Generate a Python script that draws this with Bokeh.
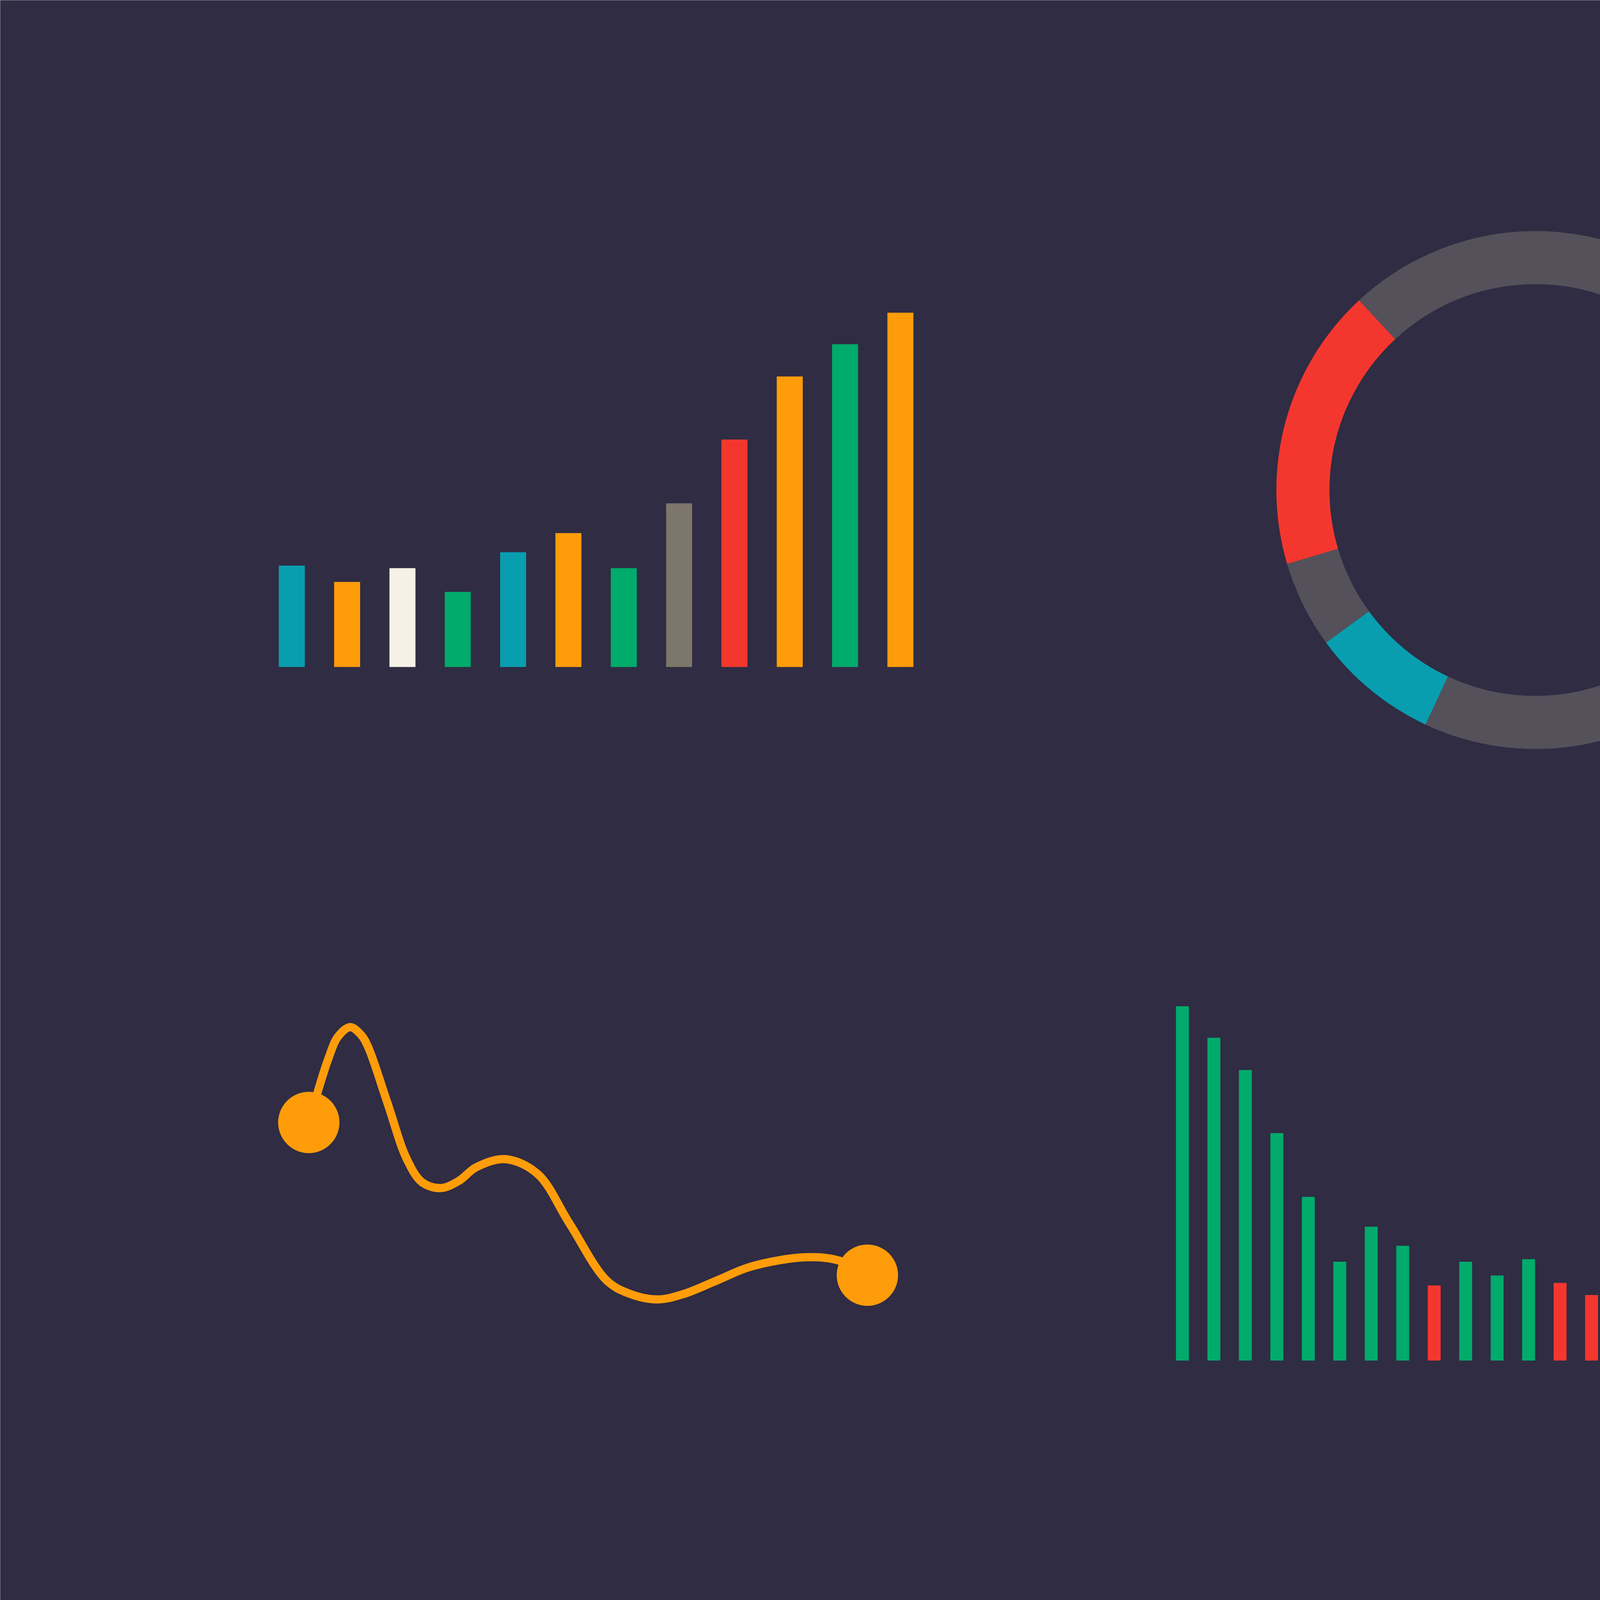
import numpy as np
from bokeh.plotting import figure
from bokeh.models import Range1d, ColumnDataSource
from bokeh.embed import file_html
from bokeh.resources import INLINE

BG = "#2f2c43"
TEAL = "#089eaf"
ORANGE = "#ff9c0a"
CREAM = "#f5f1e6"
GREEN = "#00ab6b"
TAUPE = "#7d766a"
RED = "#f4372e"
DGRAY = "#54515b"

# top-left bar chart
bars_a_values = [28.6, 24.0, 27.9, 21.2, 32.4, 37.8, 27.9, 46.2, 64.2, 82.0, 91.1, 100.0]
bars_a_colors = [TEAL, ORANGE, CREAM, GREEN, TEAL, ORANGE, GREEN, TAUPE, RED, ORANGE, GREEN, ORANGE]

# donut (degrees of each segment, anticlockwise from 3 o'clock)
donut_values = [16.4, 41.8, 74.7, 63.7, 19.5, 28.8, 69.2, 45.9]
donut_colors = [DGRAY, ORANGE, DGRAY, RED, DGRAY, TEAL, DGRAY, GREEN]

# top-right line chart
line_x = [0, 13.5, 19.6, 41.7, 56.7, 61.8, 78.0, 85.1, 107.2, 116.2, 133.7, 149.2, 157.4, 167.9]
line_y = [6.0, 35.3, 16.1, 32.0, 11.7, 48.1, 27.6, 80.6, 10.8, 24.6, 14.9, 31.8, 8.5, 19.7]
line_marker_colors = [TAUPE, TEAL, RED, None, TAUPE, GREEN, TEAL, GREEN, TAUPE, None, RED, TAUPE, None, ORANGE]

# bottom-left smooth curve
curve_x = [0, 5.1, 7.5, 10.6, 13.4, 15.2, 20.2, 25.1, 29.0, 33.8, 38.5, 42.8, 50.4, 58.6,
           66.7, 76.2, 82.0, 89.3, 96.0, 104.6, 113.2, 127.3, 135.9, 143.0]
curve_y = [51.9, 68.5, 73.9, 76.3, 74.3, 71.2, 56.7, 42.5, 36.6, 35.1, 37.0, 40.4, 42.5, 38.7,
           26.1, 11.5, 8.1, 6.6, 8.0, 11.5, 15.0, 17.4, 16.5, 12.8]

# bottom-middle bar chart
bars_e_values = [100.0, 91.1, 82.0, 64.2, 46.2, 27.9, 37.8, 32.4, 21.2, 27.9, 24.0, 28.6,
                 21.9, 18.5, 21.4, 16.3, 24.9, 29.1, 21.4, 35.4, 49.3, 63.1, 70.0, 76.8]
bars_e_colors = [GREEN, GREEN, GREEN, GREEN, GREEN, GREEN, GREEN, GREEN, RED, GREEN, GREEN, GREEN,
                 RED, RED, RED, RED, GREEN, GREEN, RED, GREEN, GREEN, GREEN, GREEN, GREEN]

# bottom-right pie (percent, clockwise from 12 o'clock)
pie_values = [6.3, 16.25, 4.43, 73.02]
pie_colors = [GREEN, ORANGE, RED, DGRAY]

W, H, OFF = 7984, 4484, 8


def ranges(x0_px, x_scale, y0_px, y_scale):
    """Range pair so that data x=0 lands at page px x0_px and y=0 at y0_px."""
    xr = Range1d((OFF - x0_px) / x_scale, (OFF + W - x0_px) / x_scale)
    yr = Range1d((y0_px - (OFF + H)) / y_scale, (y0_px - OFF) / y_scale)
    return xr, yr


panels = {
    "bars_a": ranges(754.5, 141.64, 1715, 9.07),
    "donut": ranges(3938, 663, 1262, 663),
    "line": ranges(5532, 10, 1700, 10),
    "curve": ranges(798, 10, 3400, 10),
    "bars_e": ranges(3034.5, 80.57, 3490.5, 9.07),
    "pie": ranges(6386, 649, 3063, 649),
}

p = figure(width=W, height=H, x_range=Range1d(0, W), y_range=Range1d(0, H),
           x_axis_type=None, y_axis_type=None, toolbar_location=None,
           output_backend="svg", min_border=0)
p.background_fill_color = BG
p.border_fill_color = BG
p.outline_line_color = None
p.extra_x_ranges = {k: v[0] for k, v in panels.items()}
p.extra_y_ranges = {k: v[1] for k, v in panels.items()}

# ---- top-left bars ----
src_a = ColumnDataSource(dict(x=list(range(len(bars_a_values))), top=bars_a_values, color=bars_a_colors))
p.vbar(x="x", top="top", bottom=0, width=0.47, fill_color="color", line_color=None,
       source=src_a, x_range_name="bars_a", y_range_name="bars_a")

# ---- donut ----
d = np.radians(np.array(donut_values))
d_end = np.cumsum(d)
d_start = d_end - d
src_d = ColumnDataSource(dict(start=d_start, end=d_end, color=donut_colors))
p.annular_wedge(x=0, y=0, inner_radius=0.795, outer_radius=1.0, start_angle="start", end_angle="end",
                direction="anticlock", fill_color="color", line_color=None, source=src_d,
                x_range_name="donut", y_range_name="donut")

# ---- line chart ----
p.line(line_x, line_y, line_width=13, line_color=TAUPE, line_join="miter",
       x_range_name="line", y_range_name="line")
mk = [i for i, c in enumerate(line_marker_colors) if c is not None]
src_m = ColumnDataSource(dict(x=[line_x[i] for i in mk], y=[line_y[i] for i in mk],
                              color=[line_marker_colors[i] for i in mk]))
p.scatter(x="x", y="y", size=62, fill_color="color", line_color=None, source=src_m,
          x_range_name="line", y_range_name="line")

# ---- smooth curve: centripetal Catmull-Rom rendered as cubic bezier segments ----
P = np.column_stack([curve_x, curve_y]).astype(float)
n = len(P)
alpha = 0.5
seg = dict(x0=[], y0=[], x1=[], y1=[], cx0=[], cy0=[], cx1=[], cy1=[])
for i in range(n - 1):
    p0 = P[max(i - 1, 0)]
    p1 = P[i]
    p2 = P[i + 1]
    p3 = P[min(i + 2, n - 1)]
    l01 = np.linalg.norm(p1 - p0) ** alpha
    l12 = np.linalg.norm(p2 - p1) ** alpha
    l23 = np.linalg.norm(p3 - p2) ** alpha
    c1 = p1.copy()
    c2 = p2.copy()
    if l01 > 1e-9:
        a = 2 * l01 ** 2 + 3 * l01 * l12 + l12 ** 2
        m = 3 * l01 * (l01 + l12)
        c1 = (p1 * a - p0 * l12 ** 2 + p2 * l01 ** 2) / m
    if l23 > 1e-9:
        b = 2 * l23 ** 2 + 3 * l23 * l12 + l12 ** 2
        m = 3 * l23 * (l23 + l12)
        c2 = (p2 * b + p1 * l23 ** 2 - p3 * l12 ** 2) / m
    seg["x0"].append(p1[0]); seg["y0"].append(p1[1])
    seg["x1"].append(p2[0]); seg["y1"].append(p2[1])
    seg["cx0"].append(c1[0]); seg["cy0"].append(c1[1])
    seg["cx1"].append(c2[0]); seg["cy1"].append(c2[1])
src_c = ColumnDataSource(seg)
p.bezier(x0="x0", y0="y0", x1="x1", y1="y1", cx0="cx0", cy0="cy0", cx1="cx1", cy1="cy1",
         line_width=21, line_color=ORANGE, line_cap="round", source=src_c,
         x_range_name="curve", y_range_name="curve")
p.scatter(x=[curve_x[0], curve_x[-1]], y=[curve_y[0], curve_y[-1]], size=157,
          fill_color=ORANGE, line_color=None, x_range_name="curve", y_range_name="curve")

# ---- bottom bars ----
src_e = ColumnDataSource(dict(x=list(range(len(bars_e_values))), top=bars_e_values, color=bars_e_colors))
p.vbar(x="x", top="top", bottom=0, width=0.41, fill_color="color", line_color=None,
       source=src_e, x_range_name="bars_e", y_range_name="bars_e")

# ---- pie ----
pv = np.array(pie_values) / np.sum(pie_values) * 2 * np.pi
cum = np.cumsum(pv)
p_start = np.pi / 2 - cum
p_end = np.pi / 2 - (cum - pv)
src_p = ColumnDataSource(dict(start=p_start, end=p_end, color=pie_colors))
p.wedge(x=0, y=0, radius=1.0, start_angle="start", end_angle="end", direction="anticlock",
        fill_color="color", line_color=None, source=src_p, x_range_name="pie", y_range_name="pie")

html = file_html(p, INLINE)
html = html.replace("<body>", '<body style="margin:8px;background:%s;overflow:hidden">' % BG, 1)
open("out.html", "w").write(html)
